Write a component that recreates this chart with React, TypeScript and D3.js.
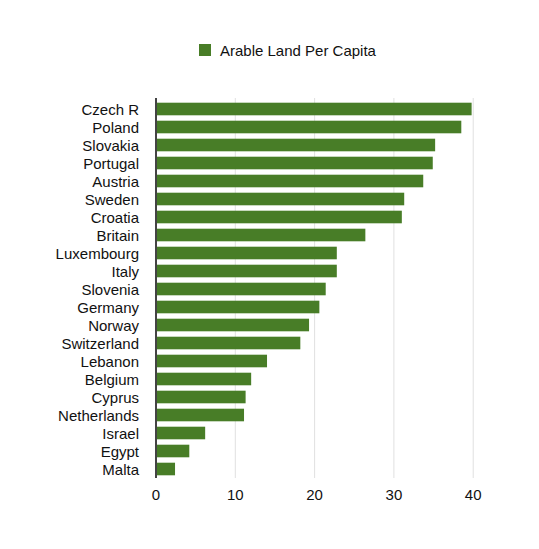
import React from "react";
import * as d3 from "d3";

const countries = ["Czech R", "Poland", "Slovakia", "Portugal", "Austria", "Sweden", "Croatia", "Britain", "Luxembourg", "Italy", "Slovenia", "Germany", "Norway", "Switzerland", "Lebanon", "Belgium", "Cyprus", "Netherlands", "Israel", "Egypt", "Malta"];
const values = [39.8, 38.5, 35.2, 34.9, 33.7, 31.3, 31.0, 26.4, 22.8, 22.8, 21.4, 20.6, 19.3, 18.2, 14.0, 12.0, 11.3, 11.1, 6.2, 4.2, 2.4];
const ticks = [0, 10, 20, 30, 40];
const seriesName = "Arable Land Per Capita";

const W = 539, H = 549;
const left = 156, right = 473.2, top = 98, bottom = 478;
const color = "#487d27";
const font = "'Liberation Sans', Arial, Helvetica, sans-serif";

export default function App() {
  const x = d3.scaleLinear().domain([0, 40]).range([left, right]);
  const y = d3.scaleBand<string>().domain(countries).range([100, 478]).paddingInner(0.3).paddingOuter(0.15);
  return (
    <svg width={W} height={H} style={{ position: "absolute", left: 0, top: 0 }} fontFamily={font}>
      <rect x={0} y={0} width={W} height={H} fill="#fff" />
      <g>
        <rect x={199} y={44} width={12} height={12} fill={color} />
        <text x={220} y={50} dominantBaseline="central" fontSize={15} fill="#111">{seriesName}</text>
      </g>
      {ticks.filter(t => t > 0).map(t => (
        <line key={t} x1={x(t)} x2={x(t)} y1={top} y2={bottom} stroke="#e0e0e0" strokeWidth={1} />
      ))}
      {countries.map((c, i) => (
        <g key={c}>
          <rect x={x(0)} y={y(c)!} width={x(values[i]) - x(0)} height={y.bandwidth()} fill={color} />
          <text x={139} y={y(c)! + y.bandwidth() / 2} textAnchor="end" dominantBaseline="central" fontSize={15} fill="#111">{c}</text>
        </g>
      ))}
      <line x1={left} x2={left} y1={top} y2={bottom} stroke="#444" strokeWidth={2} />
      {ticks.map(t => (
        <text key={t} x={x(t)} y={494} textAnchor="middle" dominantBaseline="central" fontSize={15} fill="#111">{t}</text>
      ))}
    </svg>
  );
}
